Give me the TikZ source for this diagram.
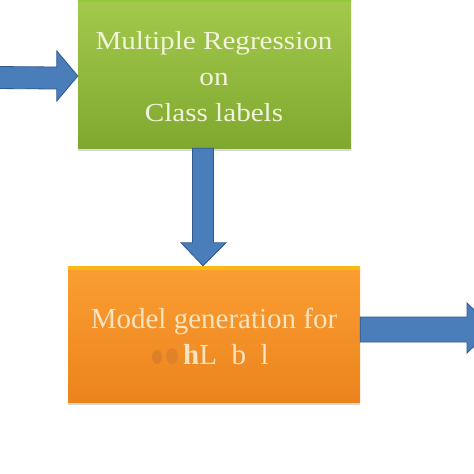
\documentclass[tikz,border=0pt]{standalone}
\usepackage{fontspec}
\setmainfont{Liberation Serif}
\newfontfamily\greenserif[FakeStretch=1.12]{Liberation Serif}
\usetikzlibrary{calc,shadows}
\definecolor{arrowblue}{HTML}{4A7EBB}
\definecolor{arrowedge}{HTML}{2F5A8F}
\definecolor{greentop}{HTML}{A3CA4C}
\definecolor{greenbot}{HTML}{80A830}
\definecolor{orangetop}{HTML}{FA9E32}
\definecolor{orangebot}{HTML}{EC841E}
\definecolor{greentext}{HTML}{F1F4DA}
\definecolor{orangetext}{HTML}{F9E4C2}
\definecolor{smudge}{HTML}{C8762E}
\tikzset{
  box/.style={rectangle, inner sep=0pt,
    drop shadow={shadow xshift=0pt, shadow yshift=-3pt, opacity=0.3, fill=gray}},
  greenbox/.style={box, top color=greentop, bottom color=greenbot,
    minimum width=273pt, minimum height=150pt},
  orangebox/.style={box, top color=orangetop, bottom color=orangebot,
    minimum width=292pt, minimum height=136pt},
  greenline/.style={anchor=base, inner sep=0pt, text=greentext, font=\greenserif\fontsize{26}{30}\selectfont},
  orangeline/.style={anchor=base, inner sep=0pt, text=orangetext, font=\fontsize{29}{34}\selectfont},
  blockarrow/.style={fill=arrowblue, draw=arrowedge, line width=0.8pt, line join=miter}
}
\begin{document}
\begin{tikzpicture}[x=1pt,y=-1pt]
\useasboundingbox (0,0) rectangle (474,474);
\fill[white] (0,0) rectangle (474,474);

% boxes
\node[greenbox] (green) at (214.5,73) {};
\node[orangebox] (orange) at (214,334) {};
\fill[yellow!60!orange, opacity=0.7] (orange.north west) rectangle ($(orange.north east)+(0,4)$);
\fill[yellow!50!green, opacity=0.5] (green.north west) rectangle ($(green.north east)+(0,4)$);

% texts
\node[greenline] (g1) at (214,49) {Multiple Regression};
\node[greenline] (g2) at (214,85) {on};
\node[greenline] (g3) at (214,121) {Class labels};
\node[orangeline] (o1) at (214,328) {Model generation for};
\node[orangeline, anchor=base west] (o2) at (183,364) {{\bfseries h}L\ \ b\ \ l};

% smudge in second line
\fill[smudge, opacity=0.5] (157,357) ellipse (5pt and 7pt);
\fill[smudge, opacity=0.4] (172,356) ellipse (6pt and 8pt);

% input arrow into green box
\coordinate (inStart) at (-5,77.5);
\coordinate (inTip) at ($(green.west)+(0,3)$);
\draw[blockarrow] ($(inStart)+(0,-11)$) -- ($(inTip)+(-21,-9)$) -- ($(inTip)+(-21,-25)$)
  -- (inTip) -- ($(inTip)+(-21,25)$) -- ($(inTip)+(-21,13)$)
  -- ($(inStart)+(0,11)$) -- cycle;

% arrow from green to orange
\coordinate (dTop) at (green.south -| 203,0);
\coordinate (dTip) at (orange.north -| 203,0);
\draw[blockarrow] ($(dTop)+(-10.5,0)$) -- ($(dTip)+(-10.5,-23)$)
  -- ($(dTip)+(-22,-23)$) -- (dTip) -- ($(dTip)+(23,-23)$)
  -- ($(dTip)+(10.5,-23)$) -- ($(dTop)+(10.5,0)$) -- cycle;

% output arrow from orange box
\coordinate (outStart) at (orange.east |- 0,329.5);
\coordinate (outEnd) at (493,328);
\draw[blockarrow] ($(outStart)+(0,-12.5)$) -- ($(outEnd)+(-26,-11)$) -- ($(outEnd)+(-26,-25)$)
  -- (outEnd) -- ($(outEnd)+(-26,25)$) -- ($(outEnd)+(-26,14)$) -- ($(outStart)+(0,12.5)$) -- cycle;
\end{tikzpicture}
\end{document}
